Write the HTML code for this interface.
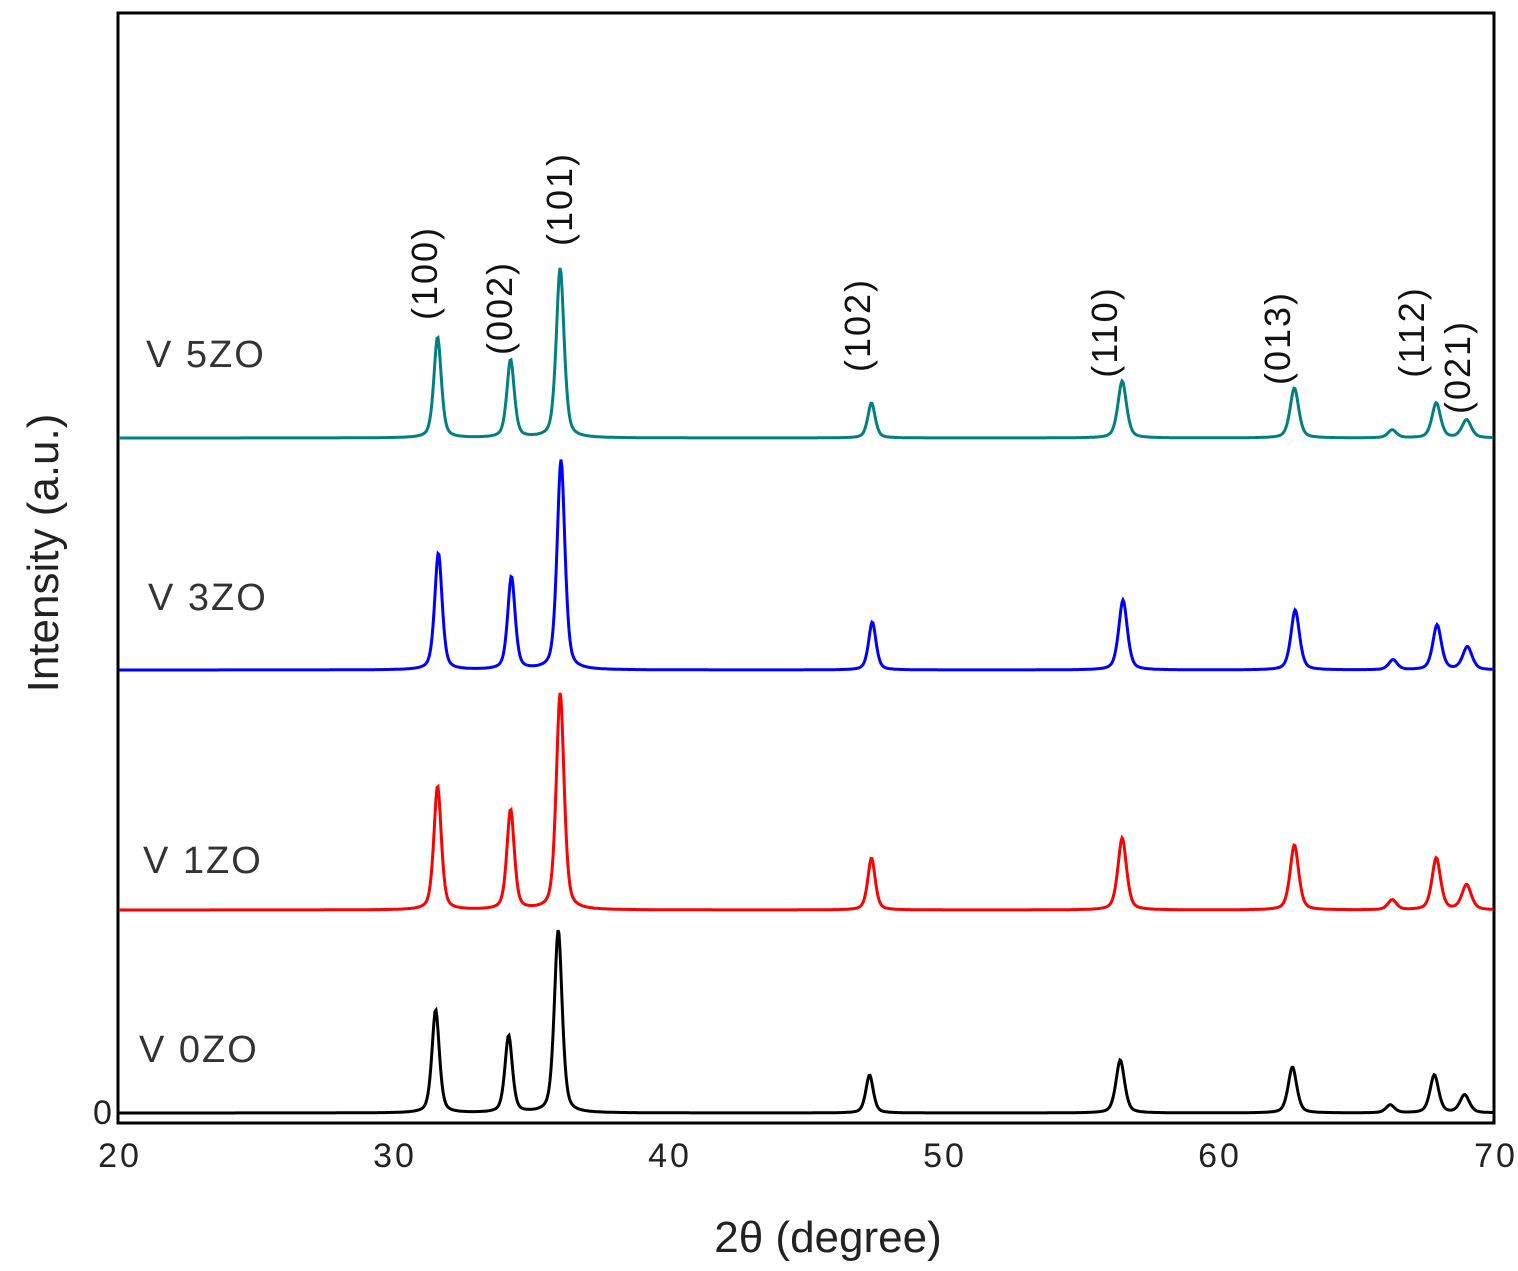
<!DOCTYPE html>
<html><head><meta charset="utf-8"><style>
html,body{margin:0;padding:0;background:#fff}
svg{display:block}
text{font-family:"Liberation Sans",sans-serif}
</style></head><body>
<svg id="s" width="1518" height="1271" viewBox="0 0 1518 1271" xmlns="http://www.w3.org/2000/svg">
<rect x="118" y="13" width="1376" height="1110" fill="none" stroke="#000" stroke-width="3"/>
<g font-size="34" fill="#222" text-anchor="middle" letter-spacing="3">
<text x="120" y="1167">20</text><text x="395" y="1167">30</text><text x="670" y="1167">40</text>
<text x="945" y="1167">50</text><text x="1220" y="1167">60</text><text x="1496" y="1167">70</text>
<text x="104" y="1124">0</text>
</g>
<text x="828" y="1252" font-size="44" text-anchor="middle" fill="#222">2θ (degree)</text>
<text transform="translate(58,553) rotate(-90)" font-size="44" text-anchor="middle" fill="#222">Intensity (a.u.)</text>
<g font-size="38" fill="#333" letter-spacing="2">
<text x="146" y="367">V 5ZO</text><text x="148" y="610">V 3ZO</text>
<text x="143" y="873">V 1ZO</text><text x="139" y="1062">V 0ZO</text>
</g>
<g font-size="36" fill="#111" text-anchor="middle" letter-spacing="2">
<text transform="translate(437,273) rotate(-90)">(100)</text>
<text transform="translate(512,308) rotate(-90)">(002)</text>
<text transform="translate(572,199) rotate(-90)">(101)</text>
<text transform="translate(870,325) rotate(-90)">(102)</text>
<text transform="translate(1117,332) rotate(-90)">(110)</text>
<text transform="translate(1290,338) rotate(-90)">(013)</text>
<text transform="translate(1424,332) rotate(-90)">(112)</text>
<text transform="translate(1470,367) rotate(-90)">(021)</text>
</g>
<g id="g" fill="none" stroke-width="3"></g>
</svg>
<script>
var pos=[31.75,34.4,36.2,47.5,56.6,62.85,66.4,68.0,69.1];
var sets=[
 {c:"#000",b:1113,s:-0.22,t:[1010,1036,930,1075,1060,1067,1105,1075,1095]},
 {c:"#f00",b:910,s:-0.15,t:[786,810,693,858,838,845,900,858,885]},
 {c:"#00f",b:670,s:-0.12,t:[553,577,460,622,600,610,660,625,647]},
 {c:"#008080",b:438,s:-0.15,t:[337,360,268,403,381,388,430,403,420]}
];
var w=[0.19,0.19,0.2,0.19,0.22,0.22,0.22,0.22,0.24];
var g=document.getElementById('g');
sets.forEach(function(S){
 var d="";
 for(var px=119;px<=1493;px+=1){
  var deg=20+(px-118)/27.55,y=S.b;
  for(var i=0;i<pos.length;i++){
   var h=S.b-S.t[i],u=(deg-pos[i]-S.s)/w[i];
   y-=h*(0.5/(1+u*u*1.6)+0.5*Math.exp(-u*u*0.9));
  }
  d+=(px==119?"M":"L")+px+" "+y.toFixed(1);
 }
 var p=document.createElementNS("http://www.w3.org/2000/svg","path");
 p.setAttribute("d",d);p.setAttribute("stroke",S.c);g.appendChild(p);
});
</script>
</body></html>
